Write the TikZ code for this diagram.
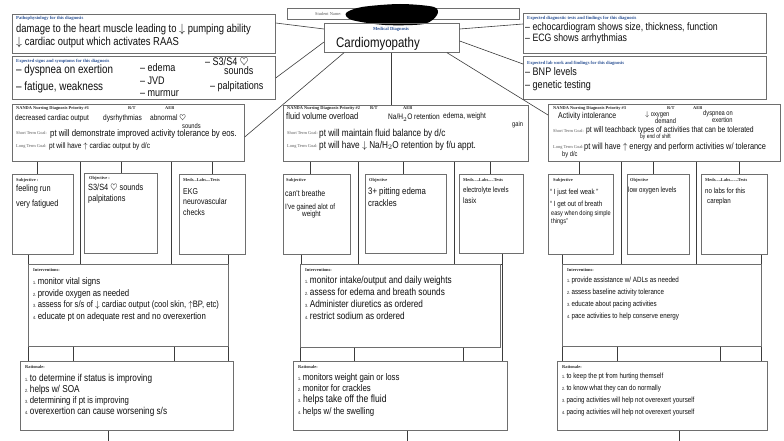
\documentclass[tikz,border=0pt]{standalone}
\usepackage{fontspec}
\usepackage{tikz}
\usetikzlibrary{calc}
\setmainfont{Liberation Serif}
\newfontfamily\hwfont[FakeStretch=0.82]{Liberation Sans}
\definecolor{pagebg}{RGB}{255,255,255}
\definecolor{hdrblue}{RGB}{46,84,150}
\definecolor{boxborder}{RGB}{110,110,110}
\definecolor{linkgray}{RGB}{60,60,60}
\definecolor{tagdark}{RGB}{40,40,40}
\definecolor{taggray}{RGB}{90,90,90}
\definecolor{inkblack}{RGB}{15,15,15}
\newcommand{\itemno}[1]{{\fontsize{4.5}{5}\selectfont #1.}\,}

\begin{document}
\begin{tikzpicture}[
    x=1pt, y=-1pt,
    box/.style={draw=boxborder, line width=0.7pt, anchor=north west, inner sep=0pt},
    link/.style={draw=linkgray, line width=0.6pt},
    lbl/.style={text=hdrblue, font=\fontsize{4.6}{5}\selectfont\bfseries, anchor=base west, inner sep=0pt},
    tag/.style={text=tagdark, font=\fontsize{4.4}{5}\selectfont\bfseries, anchor=base west, inner sep=0pt},
    goal/.style={text=taggray, font=\fontsize{4.4}{5}\selectfont, anchor=base west, inner sep=0pt},
    hw/.style={text=inkblack, font=\hwfont\fontsize{#1}{#1}\selectfont, anchor=base west, inner sep=0pt},
    hw/.default=8
]

% Page
\useasboundingbox (0,0) rectangle (784,441);
\fill[pagebg] (0,0) rectangle (784,441);

% TOP ROW
% Student name bar (name blacked out)
\node[box, minimum width=232pt, minimum height=11pt] (stuname) at (287,8) {};
\node[goal] (stunameL) at (315,15.5) {Student Name:};
\fill[black] plot[smooth cycle] coordinates {(346,13) (362,7) (400,4) (434,7) (437,15) (424,24) (385,25) (352,20)};

% Medical diagnosis
\node[box, minimum width=135pt, minimum height=29pt] (meddx) at (324,23) {};
\node[lbl, anchor=base] (meddxL) at (391,31) {Medical Diagnosis};
\node[hw=14, anchor=base] (meddxA) at (378,48) {Cardiomyopathy};

% Pathophysiology
\node[box, minimum width=263pt, minimum height=39pt] (patho) at (12,14) {};
\node[lbl] (pathoL) at (16,19.5) {Pathophysiology for this diagnosis};
\node[hw=11.5] (pathoA) at (16,33) {damage to the heart muscle leading to $\downarrow$ pumping ability};
\node[hw=11.5] (pathoB) at (16,46) {$\downarrow$ cardiac output which activates RAAS};

% Signs and symptoms
\node[box, minimum width=263pt, minimum height=43pt] (signs) at (12,56) {};
\node[lbl] (signsL) at (16,62.5) {Expected signs and symptoms for this diagnosis};
\node[hw=12] (signsA) at (16,74) {\textendash\ dyspnea on exertion};
\node[hw=12] (signsB) at (16,91) {\textendash\ fatigue, weakness};
\node[hw=11] (signsC) at (140,72) {\textendash\ edema};
\node[hw=11] (signsD) at (140,85) {\textendash\ JVD};
\node[hw=11] (signsE) at (140,97) {\textendash\ murmur};
\node[hw=11] (signsF) at (205,66) {\textendash\ S3/S4 $\heartsuit$};
\node[hw=11] (signsG) at (224,75) {sounds};
\node[hw=11] (signsH) at (210,90) {\textendash\ palpitations};

% Diagnostic tests
\node[box, minimum width=243pt, minimum height=40pt] (diag) at (523,13) {};
\node[lbl] (diagL) at (527,19.5) {Expected diagnostic tests and findings for this diagnosis};
\node[hw=10.7] (diagA) at (525,31) {\textendash\ echocardiogram shows size, thickness, function};
\node[hw=10.7] (diagB) at (525,42) {\textendash\ ECG shows arrhythmias};

% Lab work
\node[box, minimum width=243pt, minimum height=43pt] (labs) at (523,56) {};
\node[lbl] (labsL) at (527,64.5) {Expected lab work and findings for this diagnosis};
\node[hw=11] (labsA) at (525,76) {\textendash\ BNP levels};
\node[hw=11] (labsB) at (525,89) {\textendash\ genetic testing};

% Spokes from the medical diagnosis
\draw[link] (patho.east |- 0,23) -- (meddx.west |- 0,29);
\draw[link] (signs.east |- 0,78) -- (meddx.west |- 0,42);
\draw[link] (meddx.east |- 0,29) -- (diag.west |- 0,24);
\draw[link] (meddx.east |- 0,41) -- (labs.west |- 0,64);

% NANDA DIAGNOSES
% Priority #1
\node[box, minimum width=232pt, minimum height=57pt] (nd1) at (12,104) {};
\node[tag] (nd1L) at (16,110) {NANDA Nursing Diagnosis Priority \#1};
\node[tag] (nd1R) at (128,110) {R/T};
\node[tag] (nd1E) at (165,110) {AEB};
\node[hw=8] (nd1A) at (15,121) {decreased cardiac output};
\node[hw=8] (nd1B) at (103,121) {dysrhythmias};
\node[hw=8] (nd1C) at (150,121) {abnormal $\heartsuit$};
\node[hw=7] (nd1D) at (182,128.5) {sounds};
\node[goal] (nd1S) at (16,135) {Short Term Goal:};
\node[hw=9.5] (nd1SA) at (50,136) {pt will demonstrate improved activity tolerance by eos.};
\node[goal] (nd1G) at (16,147) {Long Term Goal:};
\node[hw=8] (nd1GA) at (49,148) {pt will have $\uparrow$ cardiac output by d/c};

% Priority #2
\node[box, minimum width=245pt, minimum height=56pt] (nd2) at (283,105) {};
\node[tag] (nd2L) at (287,110) {NANDA Nursing Diagnosis Priority \#2};
\node[tag] (nd2R) at (370,110) {R/T};
\node[tag] (nd2E) at (403,110) {AEB};
\node[hw=9.3] (nd2A) at (286,120) {fluid volume overload};
\node[hw=8] (nd2B) at (388,120) {Na/H$_2$O retention};
\node[hw=8] (nd2C) at (443,119) {edema, weight};
\node[hw=7] (nd2D) at (512,126.5) {gain};
\node[goal] (nd2S) at (287,135) {Short Term Goal:};
\node[hw=10] (nd2SA) at (319,136) {pt will maintain fluid balance by d/c};
\node[goal] (nd2G) at (287,147) {Long Term Goal:};
\node[hw=10] (nd2GA) at (319,148) {pt will have $\downarrow$ Na/H$_2$O retention by f/u appt.};

% Priority #3
\node[box, minimum width=232pt, minimum height=57pt] (nd3) at (548,104) {};
\node[tag] (nd3L) at (553,110) {NANDA Nursing Diagnosis Priority \#3};
\node[tag] (nd3R) at (667,110) {R/T};
\node[tag] (nd3E) at (693,110) {AEB};
\node[hw=8.5] (nd3A) at (558,119) {Activity intolerance};
\node[hw=7] (nd3B) at (645,117) {$\downarrow$ oxygen};
\node[hw=7] (nd3C) at (655,123.5) {demand};
\node[hw=7] (nd3D) at (703,116) {dyspnea on};
\node[hw=7] (nd3F) at (712,123) {exertion};
\node[goal] (nd3S) at (553,132.5) {Short Term Goal:};
\node[hw=8.3] (nd3SA) at (586,132.5) {pt will teachback types of activities that can be tolerated};
\node[hw=6] (nd3SB) at (640,139) {by end of shift};
\node[goal] (nd3G) at (553,149) {Long Term Goal:};
\node[hw=9] (nd3GA) at (584,149.5) {pt will have $\uparrow$ energy and perform activities w/ tolerance};
\node[hw=7] (nd3GB) at (562,156) {by d/c};

% Spokes down to the diagnoses
\draw[link] (meddx.south -| 344,0) -- (nd1.east |- 0,137);
\draw[link] (meddx.south -| 391,0) -- (nd2.north -| 391,0);
\draw[link] (meddx.south -| 447,0) -- (nd3.west |- 0,115);

% ASSESSMENT BOXES
% Column 1
\node[box, minimum width=61pt, minimum height=80pt] (sub1) at (12,174) {};
\node[tag] (sub1L) at (16,181) {Subjective :};
\node[hw=9] (sub1A) at (16,191) {feeling run};
\node[hw=9] (sub1B) at (16,206) {very fatigued};
\node[box, minimum width=73pt, minimum height=80pt] (obj1) at (84,173) {};
\node[tag] (obj1L) at (89,179) {Objective :};
\node[hw=9] (obj1A) at (88,190) {S3/S4 $\heartsuit$ sounds};
\node[hw=9] (obj1B) at (88,201) {palpitations};
\node[box, minimum width=66pt, minimum height=80pt] (med1) at (179,174) {};
\node[tag] (med1L) at (183,181) {Meds...Labs....Tests};
\node[hw=8.5] (med1A) at (183,194) {EKG};
\node[hw=8.5] (med1B) at (183,204) {neurovascular};
\node[hw=8.5] (med1C) at (183,215) {checks};

% Column 2
\node[box, minimum width=67pt, minimum height=80pt] (sub2) at (283,174) {};
\node[tag] (sub2L) at (286,181) {Subjective};
\node[hw=8.5] (sub2A) at (285,196) {can't breathe};
\node[hw=7.8] (sub2B) at (285,209) {I've gained alot of};
\node[hw=7.8] (sub2C) at (302,216.5) {weight};
\node[box, minimum width=81pt, minimum height=79pt] (obj2) at (365,174) {};
\node[tag] (obj2L) at (369,181) {Objective};
\node[hw=9.5] (obj2A) at (368,194) {3+ pitting edema};
\node[hw=9.5] (obj2B) at (368,206) {crackles};
\node[box, minimum width=64pt, minimum height=79pt] (med2) at (459,174) {};
\node[tag] (med2L) at (463,181) {Meds.....Labs.....Tests};
\node[hw=7.5] (med2A) at (463,192) {electrolyte levels};
\node[hw=8] (med2B) at (463,203) {lasix};

% Column 3
\node[box, minimum width=65pt, minimum height=80pt] (sub3) at (548,174) {};
\node[tag] (sub3L) at (553,181) {Subjective};
\node[hw=7.5] (sub3A) at (550,194) {“ I just feel weak ”};
\node[hw=7.5] (sub3B) at (550,206) {“ I get out of breath};
\node[hw=6.8] (sub3C) at (551,215) {easy when doing simple};
\node[hw=6.8] (sub3D) at (551,223) {things”};
\node[box, minimum width=62pt, minimum height=80pt] (obj3) at (627,174) {};
\node[tag] (obj3L) at (630,181) {Objective};
\node[hw=7.5] (obj3A) at (628,192) {low oxygen levels};
\node[box, minimum width=66pt, minimum height=80pt] (med3) at (701,174) {};
\node[tag] (med3L) at (705,181) {Meds.....Labs.......Tests};
\node[hw=7.5] (med3A) at (705,193) {no labs for this};
\node[hw=7.5] (med3B) at (707,203) {careplan};

% INTERVENTIONS
\node[box, minimum width=200pt, minimum height=82pt] (int1) at (28,264) {};
\node[tag] (int1L) at (33,271) {Interventions:};
\node[hw=9.5] (int1A) at (33,284) {\itemno{1}monitor vital signs};
\node[hw=9.5] (int1B) at (33,296) {\itemno{2}provide oxygen as needed};
\node[hw=9.3] (int1C) at (33,307.5) {\itemno{3}assess for s/s of $\downarrow$ cardiac output (cool skin, $\uparrow$BP, etc)};
\node[hw=9.5] (int1D) at (33,319.5) {\itemno{4}educate pt on adequate rest and no overexertion};

\node[box, minimum width=200pt, minimum height=83pt] (int2) at (300,264) {};
\node[tag] (int2L) at (305,271) {Interventions:};
\node[hw=10] (int2A) at (305,283) {\itemno{1}monitor intake/output and daily weights};
\node[hw=10] (int2B) at (305,295) {\itemno{2}assess for edema and breath sounds};
\node[hw=10] (int2C) at (305,307) {\itemno{3}Administer diuretics as ordered};
\node[hw=10] (int2D) at (305,319) {\itemno{4}restrict sodium as ordered};

\node[box, minimum width=199pt, minimum height=82pt] (int3) at (562,264) {};
\node[tag] (int3L) at (567,271) {Interventions:};
\node[hw=7.6] (int3A) at (567,282) {\itemno{1}provide assistance w/ ADLs as needed};
\node[hw=7.6] (int3B) at (567,294) {\itemno{2}assess baseline activity tolerance};
\node[hw=7.6] (int3C) at (567,306) {\itemno{3}educate about pacing activities};
\node[hw=7.6] (int3D) at (567,318) {\itemno{4}pace activities to help conserve energy};

% RATIONALE
\node[box, minimum width=213pt, minimum height=69pt] (rat1) at (20,361) {};
\node[tag] (rat1L) at (25,368) {Rationale:};
\node[hw=10] (rat1A) at (25,381) {\itemno{1}to determine if status is improving};
\node[hw=10] (rat1B) at (25,392) {\itemno{2}helps w/ SOA};
\node[hw=9.5] (rat1C) at (25,403) {\itemno{3}determining if pt is improving};
\node[hw=10] (rat1D) at (25,414) {\itemno{4}overexertion can cause worsening s/s};

\node[box, minimum width=214pt, minimum height=69pt] (rat2) at (293,361) {};
\node[tag] (rat2L) at (298,368) {Rationale:};
\node[hw=9.5] (rat2A) at (298,380) {\itemno{1}monitors weight gain or loss};
\node[hw=9.5] (rat2B) at (298,391) {\itemno{2}monitor for crackles};
\node[hw=10.5] (rat2C) at (298,402.5) {\itemno{3}helps take off the fluid};
\node[hw=9.5] (rat2D) at (298,414) {\itemno{4}helps w/ the swelling};

\node[box, minimum width=210pt, minimum height=69pt] (rat3) at (557,361) {};
\node[tag] (rat3L) at (562,368) {Rationale:};
\node[hw=7.5] (rat3A) at (562,378.5) {\itemno{1}to keep the pt from hurting themself};
\node[hw=7.5] (rat3B) at (562,390.5) {\itemno{2}to know what they can do normally};
\node[hw=7.5] (rat3C) at (562,402.5) {\itemno{3}pacing activities will help not overexert yourself};
\node[hw=7.5] (rat3D) at (562,414.5) {\itemno{4}pacing activities will help not overexert yourself};

% TREE LINKS
% Column 1
\draw[link] (nd1.south -| 37,0) -- (sub1.north -| 37,0);
\draw[link] (nd1.south -| 121,0) -- (obj1.north -| 121,0);
\draw[link] (nd1.south -| 212,0) -- (med1.north -| 212,0);
\draw[link] (nd1.south -| 80,0) -- (int1.north -| 80,0);
\draw[link] (nd1.south -| 171,0) -- (int1.north -| 171,0);
\draw[link] (sub1.south -| 28,0) -- (int1.north -| 28,0);
\draw[link] (med1.south -| 228,0) -- (int1.north -| 228,0);
\foreach \xc in {28,73,174,228}
  \draw[link] (int1.south -| \xc,0) -- (rat1.north -| \xc,0);
\coordinate (foot1) at (108,441);
\draw[link] (rat1.south -| foot1) -- (foot1);

% Column 2
\draw[link] (nd2.south -| 310,0) -- (sub2.north -| 310,0);
\draw[link] (nd2.south -| 403,0) -- (obj2.north -| 403,0);
\draw[link] (nd2.south -| 490,0) -- (med2.north -| 490,0);
\draw[link] (nd2.south -| 358,0) -- (int2.north -| 358,0);
\draw[link] (nd2.south -| 454,0) -- (int2.north -| 454,0);
\draw[link] (sub2.south -| 301,0) -- (int2.north -| 301,0);
\draw[link] (med2.south -| 502,0) -- (rat2.north -| 502,0);
\draw[link] (int2.north east) -- (int2.north -| 502,0);
\foreach \xc in {300,354,463}
  \draw[link] (int2.south -| \xc,0) -- (rat2.north -| \xc,0);
\coordinate (foot2) at (407,441);
\draw[link] (rat2.south -| foot2) -- (foot2);

% Column 3
\draw[link] (nd3.south -| 579,0) -- (sub3.north -| 579,0);
\draw[link] (nd3.south -| 653,0) -- (obj3.north -| 653,0);
\draw[link] (nd3.south -| 739,0) -- (med3.north -| 739,0);
\draw[link] (nd3.south -| 621,0) -- (int3.north -| 621,0);
\draw[link] (nd3.south -| 696,0) -- (int3.north -| 696,0);
\draw[link] (sub3.south -| 562,0) -- (int3.north -| 562,0);
\draw[link] (med3.south -| 761,0) -- (int3.north -| 761,0);
\foreach \xc in {562,617,720,761}
  \draw[link] (int3.south -| \xc,0) -- (rat3.north -| \xc,0);
\coordinate (foot3) at (679,441);
\draw[link] (rat3.south -| foot3) -- (foot3);

\end{tikzpicture}
\end{document}
